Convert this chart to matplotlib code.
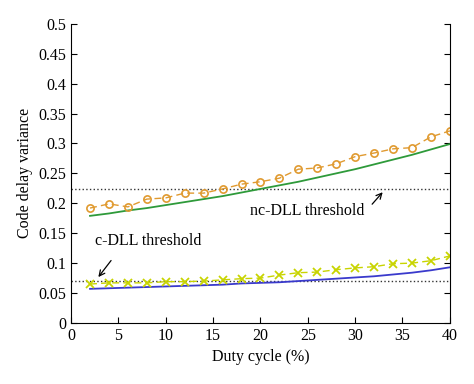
import matplotlib
matplotlib.use('Agg')
import matplotlib.pyplot as plt
import numpy as np

plt.rcParams['font.family'] = ['Liberation Serif', 'DejaVu Serif']

duty = [2, 4, 6, 8, 10, 12, 14, 16, 18, 20, 22, 24, 26, 28, 30, 32, 34, 36, 38, 40]
nc_sim = [0.192, 0.199, 0.194, 0.207, 0.209, 0.217, 0.217, 0.224, 0.232, 0.236,
          0.242, 0.257, 0.259, 0.266, 0.278, 0.284, 0.291, 0.293, 0.311, 0.321]
nc_theory = [0.179, 0.183, 0.188, 0.192, 0.197, 0.202, 0.207, 0.212, 0.218, 0.224,
             0.230, 0.236, 0.243, 0.250, 0.257, 0.265, 0.273, 0.281, 0.290, 0.299]
c_sim = [0.065, 0.067, 0.067, 0.067, 0.069, 0.069, 0.070, 0.072, 0.074, 0.075,
         0.080, 0.084, 0.085, 0.089, 0.092, 0.094, 0.099, 0.100, 0.104, 0.112]
c_theory = [0.057, 0.058, 0.059, 0.060, 0.061, 0.062, 0.063, 0.064, 0.066, 0.067,
            0.068, 0.070, 0.072, 0.074, 0.076, 0.078, 0.081, 0.084, 0.088, 0.093]
nc_thr = 0.224
c_thr = 0.070

fig = plt.figure(figsize=(4.74, 3.84), dpi=100)
ax = fig.add_axes([0.150, 0.159, 0.799, 0.779])

ax.plot([0, 40], [nc_thr, nc_thr], ':', color='#333333', lw=1.0)
ax.plot([0, 40], [c_thr, c_thr], ':', color='#333333', lw=1.0)
ax.plot(duty, nc_theory, '-', color='#2e9a3a', lw=1.3)
ax.plot(duty, nc_sim, '--', color='#e09a30', lw=1.0, marker='o', ms=5.2,
        mfc='none', mec='#e09a30', mew=1.2, dashes=(5, 3))
ax.plot(duty, c_theory, '-', color='#3a3acc', lw=1.3)
ax.plot(duty, c_sim, '--', color='#c8d400', lw=1.0, marker='x', ms=5.2,
        mew=1.3, dashes=(5, 3))

ax.annotate('', xy=(33.1, 0.222), xytext=(31.6, 0.195),
            arrowprops=dict(arrowstyle='->', color='black', lw=0.9))
ax.text(18.9, 0.187, 'nc-DLL threshold', fontsize=11.5, va='center')
ax.annotate('', xy=(2.7, 0.073), xytext=(4.4, 0.108),
            arrowprops=dict(arrowstyle='->', color='black', lw=0.9))
ax.text(2.5, 0.137, 'c-DLL threshold', fontsize=11.5, va='center')

ax.set_xlim(0, 40)
ax.set_ylim(0, 0.5)
ax.set_xticks(np.arange(0, 41, 5))
ax.set_yticks(np.arange(0, 0.501, 0.05))
ax.set_yticklabels(['0', '0.05', '0.1', '0.15', '0.2', '0.25', '0.3', '0.35', '0.4', '0.45', '0.5'])
ax.tick_params(direction='in', labelsize=11.5, length=4, right=True, top=False)
ax.spines['top'].set_visible(False)
ax.set_xlabel('Duty cycle (%)', fontsize=11.5)
ax.set_ylabel('Code delay variance', fontsize=11.5)

fig.savefig('out.png', dpi=100)
